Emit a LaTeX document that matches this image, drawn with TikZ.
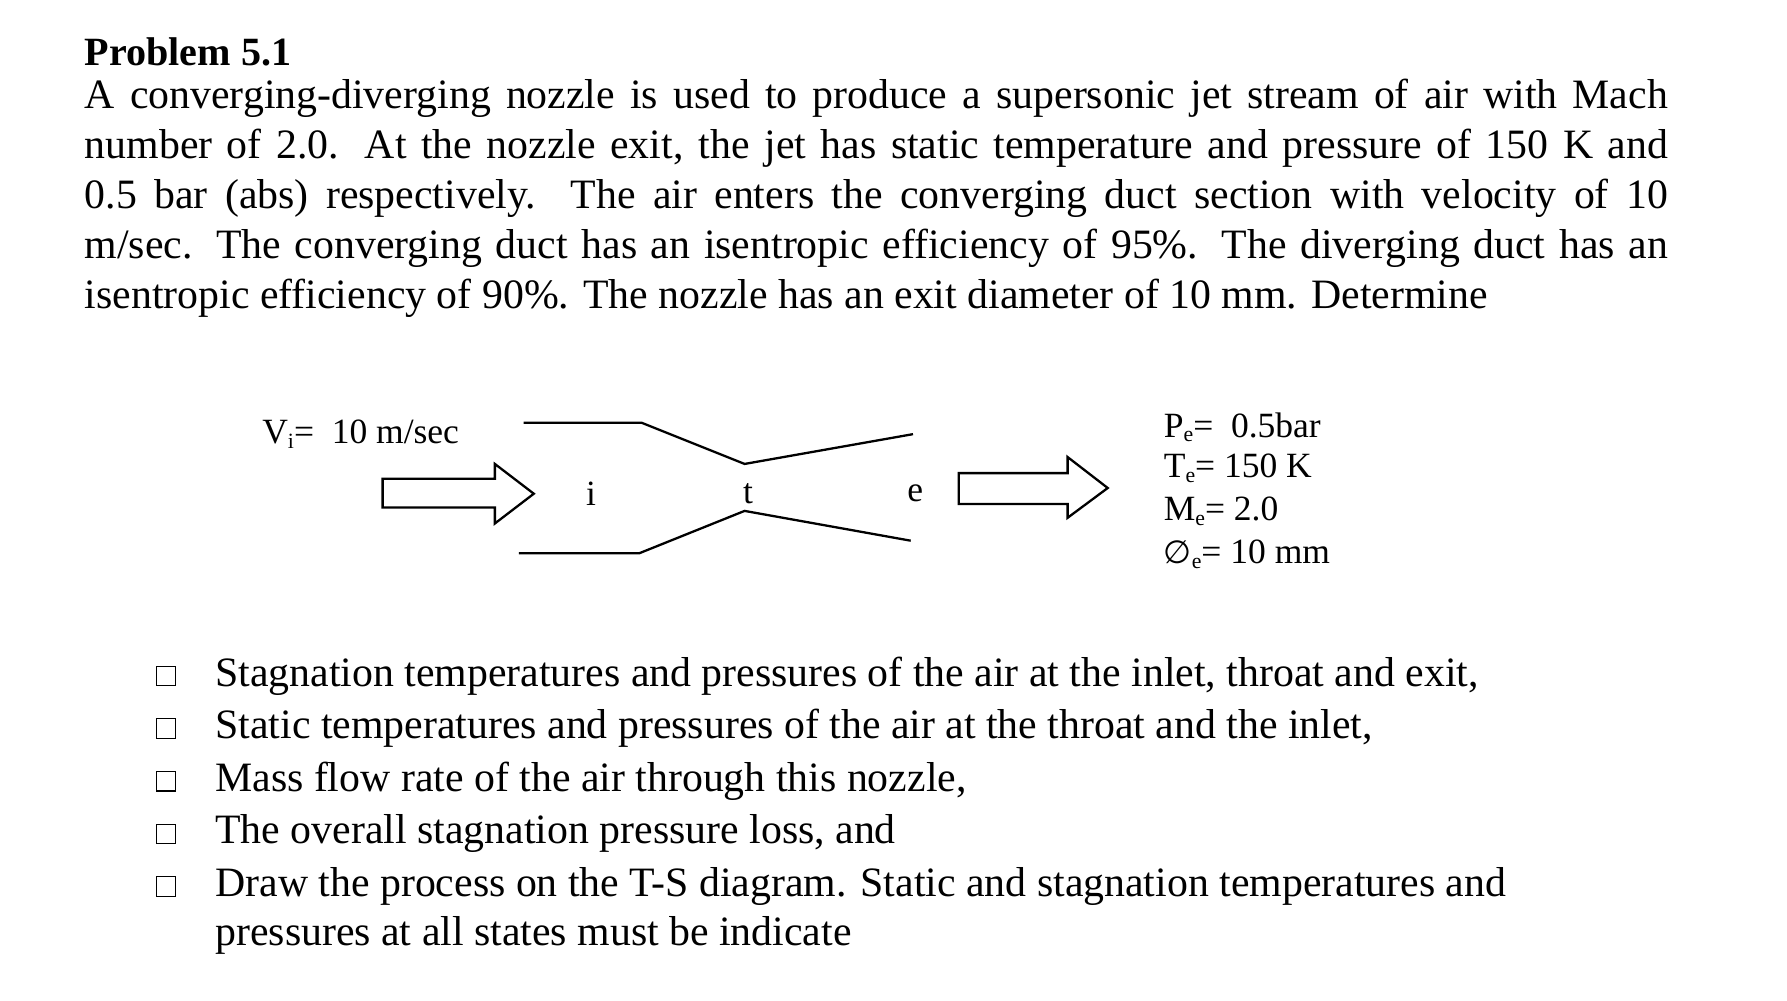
\documentclass[tikz,border=0pt]{standalone}
\usepackage{fontspec}
\setmainfont{Liberation Serif}
\newfontfamily\djvfont{DejaVu Sans}
\newcommand{\lowsub}[1]{\raisebox{-0.3ex}{\fontsize{19}{20}\selectfont #1}}
\begin{document}
\begin{tikzpicture}[x=1pt,y=-1pt,line width=2pt,
  body/.style={font=\fontsize{36.5}{43.6}\selectfont,anchor=north west,inner sep=0pt,align=justify,text width=1382pt},
  lab/.style={font=\fontsize{31}{36}\selectfont,inner sep=0pt},
  item/.style={anchor=west,inner sep=0pt,font=\fontsize{36.5}{43}\selectfont},
  box/.style={draw,line width=1pt,minimum size=17pt,inner sep=0pt}]
\useasboundingbox (0,0) rectangle (1560,873);
\node[anchor=base west,inner sep=0pt,font=\fontsize{35}{40}\selectfont\bfseries] (title) at (73,57) {Problem 5.1};
\node[body] (par) at (73,68) {A converging-diverging nozzle is used to produce a supersonic jet stream of air with Mach\linebreak number of 2.0. At the nozzle exit, the jet has static temperature and pressure of 150 K and\linebreak 0.5 bar (abs) respectively. The air enters the converging duct section with velocity of 10\linebreak m/sec. The converging duct has an isentropic efficiency of 95\%. The diverging duct has an\linebreak isentropic efficiency of 90\%. The nozzle has an exit diameter of 10 mm. Determine\par};
% nozzle
\coordinate (a1) at (457,369); \coordinate (a2) at (560,369); \coordinate (a3) at (650,405); \coordinate (a4) at (797,379);
\coordinate (b1) at (453,483); \coordinate (b2) at (558,483); \coordinate (b3) at (650,446); \coordinate (b4) at (795,472);
\draw (a1)--(a2)--(a3)--(a4);
\draw (b1)--(b2)--(b3)--(b4);
\draw (334,418)--(432,418)--(432,405)--(466,431)--(432,457)--(432,443)--(334,443)--cycle;
\draw (837,413)--(932,413)--(932,399)--(967,426)--(932,452)--(932,440)--(837,440)--cycle;
\node[lab] (i) at (516,431) {i};
\node[lab] (t) at (653,431) {t};
\node[lab] (e) at (799,431) {e};
\node[lab,anchor=west] (vi) at (228,379) {V\lowsub{i}= \ 10 m/sec};
\node[lab,anchor=west] (pe) at (1015,373) {P\lowsub{e}= \ 0.5bar};
\node[lab,anchor=west] (te) at (1015,409) {T\lowsub{e}= 150 K};
\node[lab,anchor=west] (me) at (1015,446) {M\lowsub{e}= 2.0};
\node[lab,anchor=west] (de) at (1015,484) {{\djvfont\fontsize{28}{30}\selectfont ∅}\lowsub{e}= 10 mm};
% list
\foreach \y/\n in {590/1,636/2,682/3,728/4,774/5} \node[box] (bx\n) at (145,\y) {};
\foreach \y/\t [count=\n] in {590/{Stagnation temperatures and pressures of the air at the inlet, throat and exit,},636/{Static temperatures and pressures of the air at the throat and the inlet,},682/{Mass flow rate of the air through this nozzle,},728/{The overall stagnation pressure loss, and},774/{Draw the process on the T-S diagram. Static and stagnation temperatures and}}
  \node[item] (it\n) at (187,\y) {\t};
\node[item] (it6) at (187,817) {pressures at all states must be indicate};
\end{tikzpicture}
\end{document}
